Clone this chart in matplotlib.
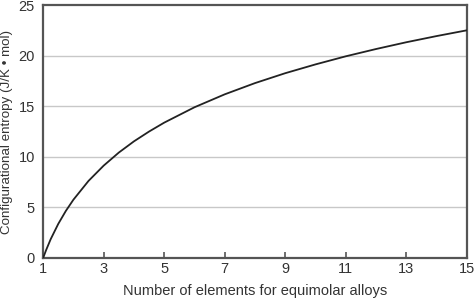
import matplotlib.pyplot as plt

plt.rcParams['font.family'] = ['Liberation Sans', 'DejaVu Sans']

# values
n_elements = [1, 1.1, 1.25, 1.5, 1.75, 2, 2.5, 3, 3.5, 4, 4.5, 5, 6, 7, 8, 9, 10, 11, 12, 13, 14, 15]
entropy = [0, 0.79, 1.86, 3.37, 4.65, 5.76, 7.62, 9.13, 10.42, 11.53, 12.50, 13.38,
           14.90, 16.18, 17.29, 18.27, 19.14, 19.94, 20.66, 21.33, 21.94, 22.51]
x_ticks = [1, 3, 5, 7, 9, 11, 13, 15]
y_ticks = [0, 5, 10, 15, 20, 25]

fig = plt.figure(figsize=(4.74, 3.01), dpi=100)
ax = fig.add_axes([0.091, 0.143, 0.894, 0.84])

for y in y_ticks[1:-1]:
    ax.axhline(y, color='#c8c8c8', lw=1.0, zorder=1)

ax.plot(n_elements, entropy, color='#222222', lw=1.3, zorder=3)

ax.set_xlim(1, 15)
ax.set_ylim(0, 25)
ax.set_xticks(x_ticks)
ax.set_yticks(y_ticks)
ax.tick_params(axis='x', direction='in', length=4, width=1.2, color='#555555',
               labelsize=10.5, labelcolor='#333333', pad=3)
ax.tick_params(axis='y', length=0, labelsize=10.5, labelcolor='#333333', pad=6)

for s in ax.spines.values():
    s.set_color('#555555')
    s.set_linewidth(1.6)

ax.set_xlabel('Number of elements for equimolar alloys', fontsize=10.5, color='#333333', labelpad=6)
ax.set_ylabel('Configurational entropy (J/K \u2022 mol)', fontsize=9.6, color='#333333')
ax.yaxis.set_label_coords(-0.072, 0.5)

fig.savefig('out.png', dpi=100)
